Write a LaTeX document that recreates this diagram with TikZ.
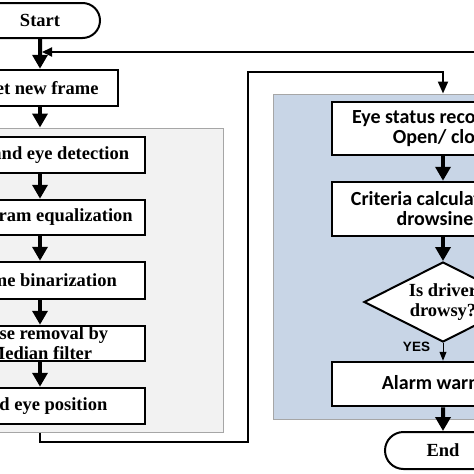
\documentclass[tikz,border=0pt]{standalone}
\usepackage{fontspec}
\setmainfont{Liberation Serif}
\newfontfamily\calfont{Carlito}
\newfontfamily\arialfont{Liberation Sans}
\usetikzlibrary{shapes.geometric,shapes.misc,arrows.meta}
\definecolor{panelgray}{HTML}{F2F2F2}
\definecolor{panelblue}{HTML}{C8D5E6}
\tikzset{
  serifbox/.style={font=\fontsize{18.5}{20}\selectfont\bfseries},
  calbox/.style={font=\calfont\fontsize{20}{20}\selectfont\bfseries},
  stepbox/.style={draw,line width=2.5pt,fill=white,align=center,inner sep=0pt},
  termbox/.style={draw,line width=2pt,fill=white,rounded rectangle,inner sep=0pt},
  panel/.style={draw=gray!70,line width=1pt,inner sep=0pt},
  bigarrow/.style={line width=4pt,-{Triangle[width=15pt,length=14pt]}},
  thinarrow/.style={line width=2pt,-{Triangle[width=10pt,length=12pt]}},
}

\begin{document}
\begin{tikzpicture}[x=1pt,y=-1pt]
  \useasboundingbox (0,0) rectangle (474,474);
  \fill[white] (0,0) rectangle (474,474);
  \clip (0,0) rectangle (474,474);
  % the two panels
  \node (lpanel) [panel,fill=panelgray,minimum width=263,minimum height=304] at (91.5,280) {};
  \node (rpanel) [panel,fill=panelblue,minimum width=247,minimum height=325] at (396.5,256.5) {};
  % left column
  \node (start)    [termbox,serifbox,minimum width=120,minimum height=35] at (40,20.5) {Start};
  \node (getframe) [stepbox,serifbox,minimum width=156,minimum height=36] at (40,88) {Get new frame};
  \node (face)     [stepbox,serifbox,minimum width=210,minimum height=36] at (40,155) {Face and eye detection};
  \node (hist)     [stepbox,serifbox,minimum width=210,minimum height=35] at (40,217.5) {Histogram equalization};
  \node (binar)    [stepbox,serifbox,minimum width=210,minimum height=37] at (40,280.5) {Frame binarization};
  \node (noise)    [stepbox,serifbox,minimum width=210,minimum height=35] at (40,343.5) {Noise removal by\\Median filter};
  \node (findeye)  [stepbox,serifbox,minimum width=210,minimum height=36] at (40,406) {Find eye position};
  % right column
  \node (eyestat)  [stepbox,calbox,minimum width=222,minimum height=53] at (443,128.5) {Eye status recognition\\Open/ close};
  \node (crit)     [stepbox,calbox,minimum width=222,minimum height=54] at (443,209) {Criteria calculation for\\drowsiness};
  \node (drowsy)   [diamond,draw,line width=2pt,fill=white,aspect=2,inner sep=0pt,
                    minimum width=158,minimum height=80,align=center,serifbox] at (443,302) {Is driver\\drowsy?};
  \node (alarm)    [stepbox,calbox,minimum width=222,minimum height=44] at (443,384) {Alarm warning};
  \node (stop)     [termbox,serifbox,minimum width=116,minimum height=37] at (443,450.5) {End};
  \node (yes)      [font=\arialfont\fontsize{13.5}{14}\selectfont\bfseries] at (416.5,347) {YES};
  \coordinate (loopin)   at (480,52);
  \coordinate (lowturn)  at (248,442);
  \coordinate (highturn) at (248,72);

  \path[bigarrow] (start) edge (getframe)
    (getframe) edge (lpanel.north -| getframe)
    (face) edge (hist)
    (hist) edge (binar)
    (binar) edge (noise)
    (noise) edge (findeye);
  \path[bigarrow] (eyestat) edge (crit)
    (crit) edge (drowsy)
    (alarm) edge (stop);
  \draw[line width=1pt,-{Triangle[width=7pt,length=9pt]}] (drowsy) -- (alarm);
  \draw[line width=2pt,-{Triangle[width=9pt,length=10pt]}] (loopin) -- ([xshift=2pt]start.south |- loopin);
  \draw[thinarrow] (lpanel.south -| findeye) |- (lowturn) -- (highturn) -| (rpanel.north -| eyestat);
\end{tikzpicture}
\end{document}
